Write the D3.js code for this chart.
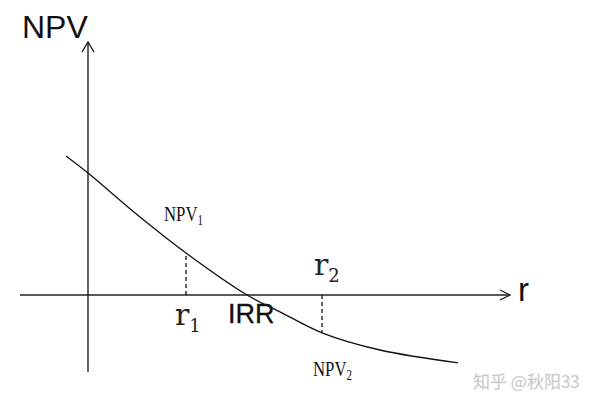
<!DOCTYPE html>
<html><head><meta charset="utf-8">
<script src="https://cdn.jsdelivr.net/npm/d3@7"></script>
<style>html,body{margin:0;padding:0;background:#fff;}svg{display:block;}</style>
</head><body>
<svg id="c" width="600" height="405"></svg>
<script>
// curve data: discount rate r vs NPV (arbitrary units)
const rValues   = [-1.1, 0, 2.6, 4.9, 7.95, 9.6, 11.7, 14.6, 18.5];
const npvValues = [6.95, 6.1, 3.9, 2.1, 0, -0.84, -1.89, -2.75, -3.39];
// marked rates
const r1 = 4.9, irr = 7.95, r2 = 11.7;
const axisX = [-3.4, 21.1];   // horizontal axis extent (r)
const axisY = [-3.85, 12.65]; // vertical axis extent (NPV)

const svg = d3.select("#c");
const x = d3.scaleLinear().domain([0, 1]).range([88, 108]);
const y = d3.scaleLinear().domain([0, 1]).range([295, 275]);
const npvAt = r => {
  const i = rValues.findIndex(v => v >= r);
  if (rValues[i] === r) return npvValues[i];
  const t = (r - rValues[i-1]) / (rValues[i] - rValues[i-1]);
  return npvValues[i-1] + t * (npvValues[i] - npvValues[i-1]);
};

// axes
svg.append("line").attr("x1", x(axisX[0])).attr("x2", x(axisX[1]))
  .attr("y1", y(0)).attr("y2", y(0)).attr("stroke", "#222").attr("stroke-width", 1.4);
svg.append("line").attr("x1", x(0)).attr("x2", x(0))
  .attr("y1", y(axisY[0])).attr("y2", y(axisY[1])).attr("stroke", "#111").attr("stroke-width", 1.3);
// arrowheads
svg.append("path").attr("d", `M${x(axisX[1])-10},${y(0)-5}L${x(axisX[1])},${y(0)}L${x(axisX[1])-10},${y(0)+5}`)
  .attr("fill", "none").attr("stroke", "#222").attr("stroke-width", 1.3);
svg.append("path").attr("d", `M${x(0)-6},${y(axisY[1])+10}L${x(0)},${y(axisY[1])}L${x(0)+6},${y(axisY[1])+10}`)
  .attr("fill", "none").attr("stroke", "#111").attr("stroke-width", 1.3);

// curve
const line = d3.line().x((d, i) => x(rValues[i])).y((d, i) => y(npvValues[i])).curve(d3.curveCatmullRom);
svg.append("path").datum(rValues).attr("d", line).attr("fill", "none")
  .attr("stroke", "#111").attr("stroke-width", 1.3);

// dashed drop lines
[r1, r2].forEach(r => {
  svg.append("line").attr("x1", x(r)).attr("x2", x(r)).attr("y1", y(0)).attr("y2", y(npvAt(r)))
    .attr("stroke", "#111").attr("stroke-width", 1.3).attr("stroke-dasharray", "4,3");
});

// axis titles
svg.append("text").attr("x", 22).attr("y", 38).attr("font-family", "Liberation Sans, Arial")
  .attr("font-size", 32).attr("fill", "#111").text("NPV");
svg.append("text").attr("x", 518).attr("y", 301).attr("font-family", "Liberation Sans, Arial")
  .attr("font-size", 33).attr("fill", "#111").text("r");
svg.append("text").attr("x", x(irr) - 19).attr("y", 323).attr("font-family", "Liberation Sans, Arial")
  .attr("font-size", 27).attr("fill", "#111").attr("stroke", "#111").attr("stroke-width", 0.3).text("IRR");

// r1, r2 labels (serif with subscript)
function rLabel(xp, yp, sub) {
  const t = svg.append("text").attr("x", xp).attr("y", yp).attr("font-family", "DejaVu Serif")
    .attr("font-size", 30).attr("fill", "#222");
  t.append("tspan").text("r");
  t.append("tspan").attr("dy", 7).attr("font-size", 18).text(sub);
}
rLabel(x(r1) - 11, 325, "1");
rLabel(x(r2) - 8, 275, "2");

// NPV1, NPV2 labels (condensed serif)
function npvLabel(xp, yp, sub) {
  const g = svg.append("g").attr("transform", `translate(${xp},${yp}) scale(0.78,1)`);
  const t = g.append("text").attr("font-family", "Liberation Serif").attr("font-size", 21.5).attr("fill", "#111");
  t.append("tspan").text("NPV");
  t.append("tspan").attr("dy", 4).attr("font-size", 14).text(sub);
}
npvLabel(164, 221, "1");
npvLabel(313, 376, "2");

// watermark
svg.append("text").attr("x", 473).attr("y", 388).attr("font-family", "Noto Sans CJK SC")
  .attr("font-size", 17).attr("fill", "#c4c4c4").attr("stroke", "#e0e0e0").attr("stroke-width", 0.3)
  .text("知乎 @秋阳33");
</script>
</body></html>
